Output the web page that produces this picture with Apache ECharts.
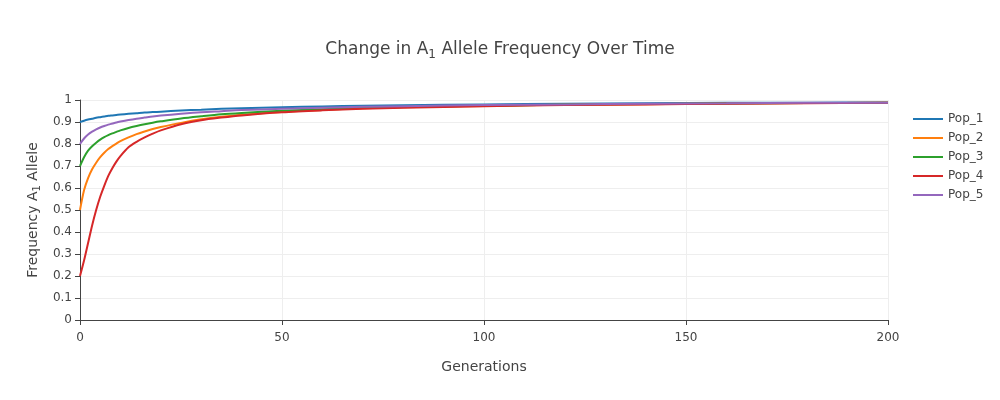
<!DOCTYPE html>
<html>
<head>
<meta charset="utf-8">
<script src="https://cdn.jsdelivr.net/npm/echarts@6/dist/echarts.min.js"></script>
<style>
  html, body { margin: 0; padding: 0; background: #fff; }
  #main { width: 1000px; height: 400px; }
</style>
</head>
<body>
<div id="main"></div>
<script>
var generations = [0, 1, 2, 3, 4, 5, 6, 7, 8, 9, 10, 12, 14, 16, 18, 20, 25, 30, 35, 40, 50, 60, 70, 80, 100, 120, 140, 160, 180, 200];
var pop1 = [0.90, 0.906, 0.911, 0.915, 0.919, 0.922, 0.925, 0.928, 0.93, 0.932, 0.934, 0.937, 0.94, 0.943, 0.945, 0.947, 0.952, 0.956, 0.96, 0.963, 0.967, 0.971, 0.974, 0.976, 0.98, 0.983, 0.985, 0.987, 0.988, 0.989];
var pop2 = [0.50, 0.59, 0.645, 0.685, 0.715, 0.74, 0.76, 0.777, 0.79, 0.802, 0.813, 0.83, 0.845, 0.857, 0.868, 0.877, 0.896, 0.912, 0.924, 0.933, 0.946, 0.955, 0.962, 0.967, 0.973, 0.978, 0.981, 0.984, 0.986, 0.988];
var pop3 = [0.70, 0.74, 0.77, 0.79, 0.806, 0.82, 0.831, 0.84, 0.848, 0.855, 0.862, 0.873, 0.882, 0.89, 0.897, 0.903, 0.916, 0.926, 0.935, 0.941, 0.951, 0.958, 0.964, 0.968, 0.974, 0.979, 0.982, 0.984, 0.986, 0.988];
var pop4 = [0.20, 0.27, 0.35, 0.43, 0.50, 0.56, 0.61, 0.655, 0.69, 0.72, 0.745, 0.785, 0.81, 0.83, 0.847, 0.862, 0.89, 0.908, 0.92, 0.93, 0.944, 0.953, 0.96, 0.965, 0.972, 0.977, 0.98, 0.983, 0.985, 0.987];
var pop5 = [0.80, 0.825, 0.843, 0.856, 0.866, 0.875, 0.882, 0.888, 0.893, 0.898, 0.902, 0.909, 0.915, 0.92, 0.925, 0.929, 0.937, 0.944, 0.949, 0.954, 0.96, 0.965, 0.969, 0.972, 0.977, 0.98, 0.983, 0.985, 0.987, 0.988];
var names = ['Pop_1', 'Pop_2', 'Pop_3', 'Pop_4', 'Pop_5'];
var colors = ['#1f77b4', '#ff7f0e', '#2ca02c', '#d62728', '#9467bd'];

var myChart = echarts.init(document.getElementById('main'));
var font = 'DejaVu Sans';

function pairs(ys) {
    return generations.map(function (g, i) { return [g, ys[i]]; });
}

var allPops = [pop1, pop2, pop3, pop4, pop5];

var option = {
    color: colors,
    textStyle: { fontFamily: font },
    title: {
        text: 'Change in A{sub|1} Allele Frequency Over Time',
        left: 'center',
        top: 34,
        textStyle: {
            fontFamily: font, fontSize: 17, fontWeight: 'normal', color: '#444',
            rich: { sub: { fontSize: 12, color: '#444', fontFamily: font, padding: [10, 0, 0, 0] } }
        }
    },
    legend: {
        orient: 'vertical',
        left: 908,
        top: 108,
        itemWidth: 30,
        itemHeight: 2,
        itemGap: 7,
        icon: 'rect',
        textStyle: { fontFamily: font, fontSize: 12, color: '#444' },
        data: names
    },
    grid: { left: 80, right: 112, top: 100, bottom: 80 },
    xAxis: {
        type: 'value',
        min: 0,
        max: 200,
        interval: 50,
        name: 'Generations',
        nameLocation: 'middle',
        nameGap: 40,
        nameTextStyle: { fontFamily: font, fontSize: 14, color: '#444' },
        axisLine: { lineStyle: { color: '#444', width: 1 } },
        axisTick: { show: true, length: 5, lineStyle: { color: '#444' } },
        axisLabel: { fontFamily: font, fontSize: 12, color: '#444', margin: 12 },
        splitLine: { show: true, lineStyle: { color: '#eee' } }
    },
    yAxis: {
        type: 'value',
        min: 0,
        max: 1,
        interval: 0.1,
        name: 'Frequency A{sub|1} Allele',
        nameLocation: 'middle',
        nameGap: 36,
        nameTextStyle: {
            fontFamily: font, fontSize: 14, color: '#444',
            rich: { sub: { fontSize: 10, color: '#444', fontFamily: font, padding: [8, 0, 0, 0] } }
        },
        axisLine: { show: true, lineStyle: { color: '#444', width: 1 } },
        axisTick: { show: true, length: 5, lineStyle: { color: '#444' } },
        axisLabel: {
            fontFamily: font, fontSize: 12, color: '#444', margin: 8,
            formatter: function (v) { return String(+v.toFixed(1)); }
        },
        splitLine: { show: true, lineStyle: { color: '#eee' } }
    },
    series: names.map(function (n, i) {
        return {
            name: n,
            type: 'line',
            data: pairs(allPops[i]),
            smooth: 0.3,
            showSymbol: false,
            lineStyle: { width: 2 }
        };
    })
};

myChart.setOption(option);
</script>
</body>
</html>
